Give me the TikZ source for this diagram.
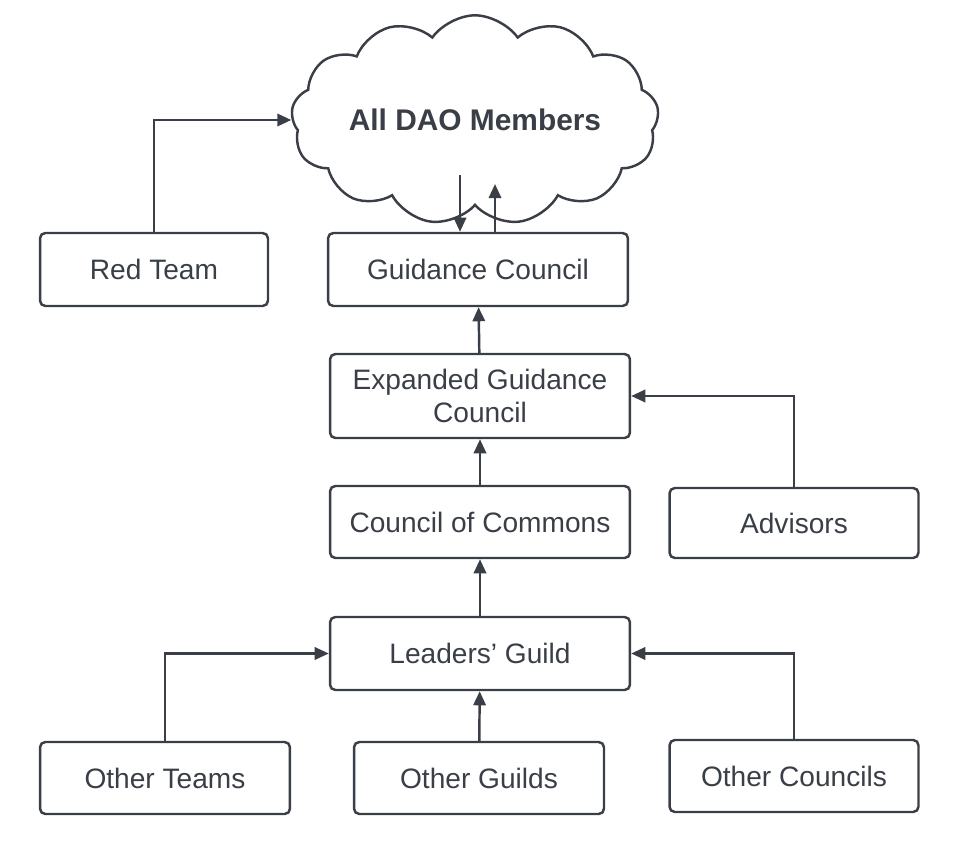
\documentclass[tikz,border=0pt]{standalone}
\usepackage{fontspec}
\setmainfont{Liberation Sans}
\usetikzlibrary{arrows.meta,positioning,shapes.symbols}
\definecolor{ink}{HTML}{3A3F47}

\begin{document}
\begin{tikzpicture}[x=0.02cm, y=-0.02cm,
    box/.style={draw=ink, line width=1.4pt, rounded corners=3pt, align=center,
                text=ink, font=\fontsize{16}{19}\selectfont, inner sep=0pt},
    arrow/.style={-{Triangle[length=8pt,width=7pt]}, draw=ink, line width=1.4pt},
  ]
    \useasboundingbox (0,0) rectangle (960,855);

    % Cloud
    \node[cloud, draw=ink, line width=1.4pt, cloud puffs=13, cloud puff arc=110,
          aspect=2.1, inner sep=0pt, text=ink,
          font=\fontsize{17}{20}\selectfont\bfseries,
          minimum width=4.55cm, minimum height=2.2cm] (cloud) at (475,120) {All DAO Members};
    \coordinate (down) at (460,175);
    \coordinate (up) at (495,184);

    % Top row
    \node[box, minimum width=4.56cm, minimum height=1.46cm] (red) at (154,269.5) {Red Team};
    \node[box, minimum width=6cm, minimum height=1.46cm] (gc) at (478,269.5) {Guidance Council};

    % Middle column
    \node[box, minimum width=6cm, minimum height=1.68cm] (egc) at (480,396) {Expanded Guidance\\Council};
    \node[box, minimum width=6cm, minimum height=1.44cm] (coc) at (480,522) {Council of Commons};
    \node[box, minimum width=4.98cm, minimum height=1.4cm] (adv) at (794,523) {Advisors};
    \node[box, minimum width=6cm, minimum height=1.46cm] (lg) at (480,653.5) {Leaders' Guild};

    % Bottom row
    \node[box, minimum width=5cm, minimum height=1.44cm] (teams) at (165,778) {Other Teams};
    \node[box, minimum width=5cm, minimum height=1.44cm] (guilds) at (479,778) {Other Guilds};
    \node[box, minimum width=4.98cm, minimum height=1.44cm] (councils) at (794,776) {Other Councils};

    % Arrows
    \draw[arrow] (red.north) |- (cloud.west);
    \draw[arrow] (down) -- (down |- gc.north);
    \draw[arrow] (up |- gc.north) -- (up);
    \draw[arrow] (egc) -- (gc);
    \draw[arrow] (coc) -- (egc);
    \draw[arrow] (adv.north) |- (egc.east);
    \draw[arrow] (lg) -- (coc);
    \draw[arrow] (teams.north) |- (lg.west);
    \draw[arrow] (guilds) -- (lg);
    \draw[arrow] (councils.north) |- (lg.east);
\end{tikzpicture}
\end{document}
